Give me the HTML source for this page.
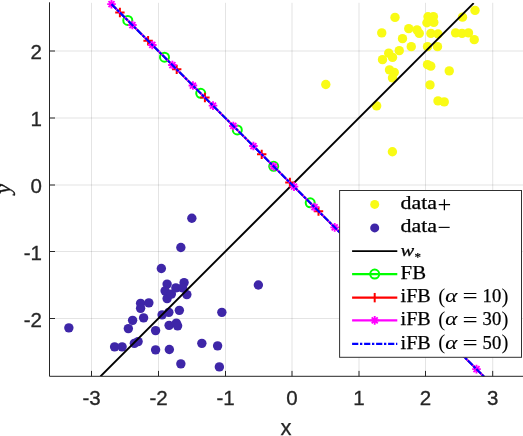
<!DOCTYPE html>
<html><head><meta charset="utf-8"><title>plot</title>
<style>
html,body{margin:0;padding:0;background:#fff;}
svg{display:block;}
.t{font-family:"Liberation Sans",sans-serif;font-size:20.5px;fill:#262626;stroke:#262626;stroke-width:0.3px;}
.l{font-family:"Liberation Serif",serif;font-size:18px;fill:#000;stroke:#000;stroke-width:0.25px;}
</style></head>
<body>
<svg width="523" height="436" viewBox="0 0 523 436">
<rect width="523" height="436" fill="#fff"/>
<defs><clipPath id="ax"><rect x="49.5" y="2.8" width="473.5" height="373.5"/></clipPath></defs>
<g stroke="#262626" stroke-opacity="0.125" stroke-width="1">
<line x1="91.5" y1="2.8" x2="91.5" y2="376.3"/>
<line x1="158.5" y1="2.8" x2="158.5" y2="376.3"/>
<line x1="225.5" y1="2.8" x2="225.5" y2="376.3"/>
<line x1="292.0" y1="2.8" x2="292.0" y2="376.3"/>
<line x1="359.0" y1="2.8" x2="359.0" y2="376.3"/>
<line x1="425.5" y1="2.8" x2="425.5" y2="376.3"/>
<line x1="492.7" y1="2.8" x2="492.7" y2="376.3"/>
<line x1="49.5" y1="318.5" x2="523" y2="318.5"/>
<line x1="49.5" y1="251.5" x2="523" y2="251.5"/>
<line x1="49.5" y1="185.0" x2="523" y2="185.0"/>
<line x1="49.5" y1="118.0" x2="523" y2="118.0"/>
<line x1="49.5" y1="51.0" x2="523" y2="51.0"/>
</g>
<g fill="#f9fb15">
<circle cx="395" cy="17.4" r="4.7"/><circle cx="381.75" cy="32.9" r="4.7"/><circle cx="408.75" cy="28.65" r="4.7"/><circle cx="417" cy="29.9" r="4.7"/><circle cx="419.25" cy="33.4" r="4.7"/><circle cx="402.5" cy="38.65" r="4.7"/><circle cx="411.25" cy="46.65" r="4.7"/><circle cx="399.25" cy="50.65" r="4.7"/><circle cx="388.75" cy="53.15" r="4.7"/><circle cx="392.5" cy="57.4" r="4.7"/><circle cx="382.5" cy="59.65" r="4.7"/><circle cx="389.5" cy="69.9" r="4.7"/><circle cx="394.25" cy="72.4" r="4.7"/><circle cx="392.5" cy="77.9" r="4.7"/><circle cx="428" cy="16.8" r="4.7"/><circle cx="433.4" cy="16.6" r="4.7"/><circle cx="426.9" cy="22.7" r="4.7"/><circle cx="433.8" cy="22.4" r="4.7"/><circle cx="430.9" cy="33.4" r="4.7"/><circle cx="438" cy="34" r="4.7"/><circle cx="427.5" cy="46.65" r="4.7"/><circle cx="437.5" cy="46.65" r="4.7"/><circle cx="427.5" cy="64.65" r="4.7"/><circle cx="430.75" cy="66.15" r="4.7"/><circle cx="430" cy="84.9" r="4.7"/><circle cx="449.25" cy="70.9" r="4.7"/><circle cx="438" cy="100.9" r="4.7"/><circle cx="444.25" cy="101.9" r="4.7"/><circle cx="462.5" cy="17.15" r="4.7"/><circle cx="475" cy="10.4" r="4.7"/><circle cx="455.6" cy="32.9" r="4.7"/><circle cx="462" cy="33.4" r="4.7"/><circle cx="468.5" cy="32.9" r="4.7"/><circle cx="474.25" cy="39.65" r="4.7"/><circle cx="376.65" cy="105.9" r="4.7"/><circle cx="325.8" cy="84.5" r="4.7"/><circle cx="392.4" cy="151.8" r="4.7"/>
</g>
<g fill="#3e26a8">
<circle cx="68.85" cy="327.85" r="4.7"/><circle cx="114.6" cy="346.85" r="4.7"/><circle cx="122.1" cy="346.85" r="4.7"/><circle cx="128.35" cy="328.6" r="4.7"/><circle cx="132.6" cy="320.35" r="4.7"/><circle cx="134.35" cy="343.35" r="4.7"/><circle cx="138.1" cy="341.6" r="4.7"/><circle cx="140.6" cy="303.35" r="4.7"/><circle cx="140.6" cy="308.35" r="4.7"/><circle cx="148.85" cy="302.85" r="4.7"/><circle cx="143.6" cy="317.85" r="4.7"/><circle cx="155.6" cy="330.6" r="4.7"/><circle cx="155.6" cy="349.85" r="4.7"/><circle cx="162.1" cy="314.85" r="4.7"/><circle cx="168.85" cy="312.35" r="4.7"/><circle cx="169.1" cy="325.35" r="4.7"/><circle cx="169.35" cy="349.45" r="4.7"/><circle cx="176.35" cy="323.1" r="4.7"/><circle cx="177.6" cy="325.85" r="4.7"/><circle cx="180.85" cy="363.85" r="4.7"/><circle cx="167.1" cy="284.1" r="4.7"/><circle cx="165.1" cy="290.85" r="4.7"/><circle cx="167.1" cy="298.6" r="4.7"/><circle cx="171.35" cy="294.1" r="4.7"/><circle cx="175.85" cy="287.85" r="4.7"/><circle cx="184.1" cy="282.6" r="4.7"/><circle cx="182.6" cy="287.85" r="4.7"/><circle cx="186.85" cy="294.6" r="4.7"/><circle cx="161.35" cy="268.45" r="4.7"/><circle cx="179.35" cy="310.35" r="4.7"/><circle cx="191.85" cy="218.2" r="4.7"/><circle cx="180.85" cy="247.45" r="4.7"/><circle cx="258.35" cy="284.95" r="4.7"/><circle cx="221.85" cy="312.35" r="4.7"/><circle cx="201.85" cy="343.35" r="4.7"/><circle cx="217.6" cy="345.85" r="4.7"/><circle cx="219.35" cy="366.9" r="4.7"/>
</g>
<line x1="100.4" y1="376.45" x2="473.7" y2="3.15" stroke="#000" stroke-width="1.9" clip-path="url(#ax)"/>
<line x1="111.5" y1="4.15" x2="490" y2="382.65" stroke="#00ff00" stroke-width="1.7" clip-path="url(#ax)"/>
<g stroke="#00ff00" fill="none">
<circle cx="127.8" cy="20.45" r="4.5" stroke-width="2"/><circle cx="164.5" cy="57.15" r="4.5" stroke-width="2"/><circle cx="200.7" cy="93.35" r="4.5" stroke-width="2"/><circle cx="237.3" cy="129.95" r="4.5" stroke-width="2"/><circle cx="273.7" cy="166.35" r="4.5" stroke-width="2"/><circle cx="310.2" cy="202.85" r="4.5" stroke-width="2"/>
</g>
<line x1="111.5" y1="4.15" x2="490" y2="382.65" stroke="#ff0000" stroke-width="1.7" clip-path="url(#ax)"/>
<g stroke="#ff0000" fill="none">
<path d="M115.2 12.55h9.4M119.9 7.85v9.4" stroke-width="2"/><path d="M143.4 40.75h9.4M148.1 36.05v9.4" stroke-width="2"/><path d="M172 69.35h9.4M176.7 64.65v9.4" stroke-width="2"/><path d="M200.2 97.55h9.4M204.9 92.85v9.4" stroke-width="2"/><path d="M257 154.35h9.4M261.7 149.65v9.4" stroke-width="2"/><path d="M285.2 182.55h9.4M289.9 177.85v9.4" stroke-width="2"/><path d="M313.8 211.15h9.4M318.5 206.45v9.4" stroke-width="2"/>
</g>
<line x1="111.5" y1="4.15" x2="490" y2="382.65" stroke="#ff00ff" stroke-width="1.8" clip-path="url(#ax)"/>
<g stroke="#ff00ff" fill="none">
<path d="M107.2 4.15h8.6M111.5 -0.15v8.6M108.5 1.15l6 6M108.5 7.15l6 -6" stroke-width="1.9"/><path d="M128.1 25.05h8.6M132.4 20.75v8.6M129.4 22.05l6 6M129.4 28.05l6 -6" stroke-width="1.9"/><path d="M148 44.95h8.6M152.3 40.65v8.6M149.3 41.95l6 6M149.3 47.95l6 -6" stroke-width="1.9"/><path d="M168.1 65.05h8.6M172.4 60.75v8.6M169.4 62.05l6 6M169.4 68.05l6 -6" stroke-width="1.9"/><path d="M188.6 85.55h8.6M192.9 81.25v8.6M189.9 82.55l6 6M189.9 88.55l6 -6" stroke-width="1.9"/><path d="M208.7 105.65h8.6M213 101.35v8.6M210 102.65l6 6M210 108.65l6 -6" stroke-width="1.9"/><path d="M229 125.95h8.6M233.3 121.65v8.6M230.3 122.95l6 6M230.3 128.95l6 -6" stroke-width="1.9"/><path d="M249.1 146.05h8.6M253.4 141.75v8.6M250.4 143.05l6 6M250.4 149.05l6 -6" stroke-width="1.9"/><path d="M269.4 166.35h8.6M273.7 162.05v8.6M270.7 163.35l6 6M270.7 169.35l6 -6" stroke-width="1.9"/><path d="M289.7 186.65h8.6M294 182.35v8.6M291 183.65l6 6M291 189.65l6 -6" stroke-width="1.9"/><path d="M310.2 207.15h8.6M314.5 202.85v8.6M311.5 204.15l6 6M311.5 210.15l6 -6" stroke-width="1.9"/><path d="M330.4 227.35h8.6M334.7 223.05v8.6M331.7 224.35l6 6M331.7 230.35l6 -6" stroke-width="1.9"/><path d="M472.2 369.15h8.6M476.5 364.85v8.6M473.5 366.15l6 6M473.5 372.15l6 -6" stroke-width="1.9"/>
</g>
<line x1="111.5" y1="4.15" x2="490" y2="382.65" stroke="#0000ff" stroke-width="2.2" clip-path="url(#ax)" stroke-dasharray="6.8 1.1 2.9 1.2"/>
<g stroke="#262626" stroke-width="1" fill="none">
<path d="M49.5 2.3V376.3H523"/>
<line x1="91.5" y1="376.3" x2="91.5" y2="370.9"/><line x1="158.5" y1="376.3" x2="158.5" y2="370.9"/><line x1="225.5" y1="376.3" x2="225.5" y2="370.9"/><line x1="292.0" y1="376.3" x2="292.0" y2="370.9"/><line x1="359.0" y1="376.3" x2="359.0" y2="370.9"/><line x1="425.5" y1="376.3" x2="425.5" y2="370.9"/><line x1="492.7" y1="376.3" x2="492.7" y2="370.9"/><line x1="49.5" y1="318.5" x2="55" y2="318.5"/><line x1="49.5" y1="251.5" x2="55" y2="251.5"/><line x1="49.5" y1="185.0" x2="55" y2="185.0"/><line x1="49.5" y1="118.0" x2="55" y2="118.0"/><line x1="49.5" y1="51.0" x2="55" y2="51.0"/>
</g>
<g class="t" text-anchor="middle">
<text x="91.5" y="405.2">-3</text><text x="158.5" y="405.2">-2</text><text x="225.5" y="405.2">-1</text><text x="292.0" y="405.2">0</text><text x="359.0" y="405.2">1</text><text x="425.5" y="405.2">2</text><text x="492.7" y="405.2">3</text>
</g>
<g class="t" text-anchor="end">
<text x="42" y="326.7">-2</text><text x="42" y="259.7">-1</text><text x="42" y="193.2">0</text><text x="42" y="126.2">1</text><text x="42" y="59.2">2</text>
</g>
<text x="286" y="434.9" text-anchor="middle" style="font-family:'Liberation Sans',sans-serif;font-size:22px;fill:#262626;stroke:#262626;stroke-width:0.25px">x</text>
<text transform="translate(9.8 188.8) rotate(-90)" text-anchor="middle" style="font-family:'Liberation Serif',serif;font-style:italic;font-size:22px;fill:#111;stroke:#111;stroke-width:0.4px">y</text>
<rect x="339.6" y="190.5" width="181.9" height="166.8" fill="#fff" stroke="#303030" stroke-width="1"/>
<circle cx="374.7" cy="204.4" r="4.5" fill="#f9fb15"/>
<circle cx="374.7" cy="227.9" r="4.5" fill="#3e26a8"/>
<line x1="352.1" y1="251.15" x2="397.3" y2="251.15" stroke="#000" stroke-width="1.8"/>
<g stroke="#00ff00" stroke-width="2.2" fill="none"><line x1="352.1" y1="274.05" x2="397.3" y2="274.05"/><circle cx="374.7" cy="274.05" r="4.5" stroke-width="2"/></g>
<g stroke="#ff0000" stroke-width="2.2" fill="none"><line x1="352.1" y1="297.65" x2="397.3" y2="297.65"/><path d="M374.7 292.95v9.4" stroke-width="2"/></g>
<g stroke="#ff00ff" stroke-width="2.2" fill="none"><line x1="352.1" y1="320.4" x2="397.3" y2="320.4"/><path d="M370.4 320.4h8.6M374.7 316.1v8.6M371.7 317.4l6 6M371.7 323.4l6 -6" stroke-width="1.9"/></g>
<line x1="352.1" y1="343.9" x2="397.3" y2="343.9" stroke="#0000ff" stroke-width="2.2" stroke-dasharray="6.2 1.7 2.3 1.8"/>
<g class="l">
<text x="400.6" y="209" textLength="36.5" lengthAdjust="spacingAndGlyphs">data</text><text x="437.6" y="211.6" textLength="13.8" lengthAdjust="spacingAndGlyphs" font-size="23px" stroke="none">+</text>
<text x="400.6" y="232.2" textLength="36.5" lengthAdjust="spacingAndGlyphs">data</text><text x="437.6" y="234.8" textLength="13.4" lengthAdjust="spacingAndGlyphs" font-size="23px" stroke="none">−</text>
<text x="400.6" y="255.5" textLength="13.7" lengthAdjust="spacingAndGlyphs" font-style="italic" font-size="17px">w</text><text x="414.5" y="261.4" textLength="6.5" lengthAdjust="spacingAndGlyphs" font-size="13px">*</text>
<text x="400.6" y="279" textLength="25.4" lengthAdjust="spacingAndGlyphs">FB</text>
<text x="400.6" y="302" textLength="30.2" lengthAdjust="spacingAndGlyphs">iFB</text><text x="438.2" y="302.6" textLength="7" lengthAdjust="spacingAndGlyphs" font-size="20px" stroke="none">(</text><text x="445.2" y="302" textLength="12" lengthAdjust="spacingAndGlyphs" font-style="italic" stroke-width="0.1">α</text><text x="462.6" y="303.3" textLength="15.2" lengthAdjust="spacingAndGlyphs" font-size="21px" stroke="none">=</text><text x="482.6" y="302" textLength="18.6" lengthAdjust="spacingAndGlyphs">10</text><text x="501.4" y="302.6" textLength="7" lengthAdjust="spacingAndGlyphs" font-size="20px" stroke="none">)</text>
<text x="400.6" y="325.2" textLength="30.2" lengthAdjust="spacingAndGlyphs">iFB</text><text x="438.2" y="325.8" textLength="7" lengthAdjust="spacingAndGlyphs" font-size="20px" stroke="none">(</text><text x="445.2" y="325.2" textLength="12" lengthAdjust="spacingAndGlyphs" font-style="italic" stroke-width="0.1">α</text><text x="462.6" y="326.5" textLength="15.2" lengthAdjust="spacingAndGlyphs" font-size="21px" stroke="none">=</text><text x="482.6" y="325.2" textLength="18.6" lengthAdjust="spacingAndGlyphs">30</text><text x="501.4" y="325.8" textLength="7" lengthAdjust="spacingAndGlyphs" font-size="20px" stroke="none">)</text>
<text x="400.6" y="348.6" textLength="30.2" lengthAdjust="spacingAndGlyphs">iFB</text><text x="438.2" y="349.2" textLength="7" lengthAdjust="spacingAndGlyphs" font-size="20px" stroke="none">(</text><text x="445.2" y="348.6" textLength="12" lengthAdjust="spacingAndGlyphs" font-style="italic" stroke-width="0.1">α</text><text x="462.6" y="349.9" textLength="15.2" lengthAdjust="spacingAndGlyphs" font-size="21px" stroke="none">=</text><text x="482.6" y="348.6" textLength="18.6" lengthAdjust="spacingAndGlyphs">50</text><text x="501.4" y="349.2" textLength="7" lengthAdjust="spacingAndGlyphs" font-size="20px" stroke="none">)</text>
</g>
</svg>
</body></html>
